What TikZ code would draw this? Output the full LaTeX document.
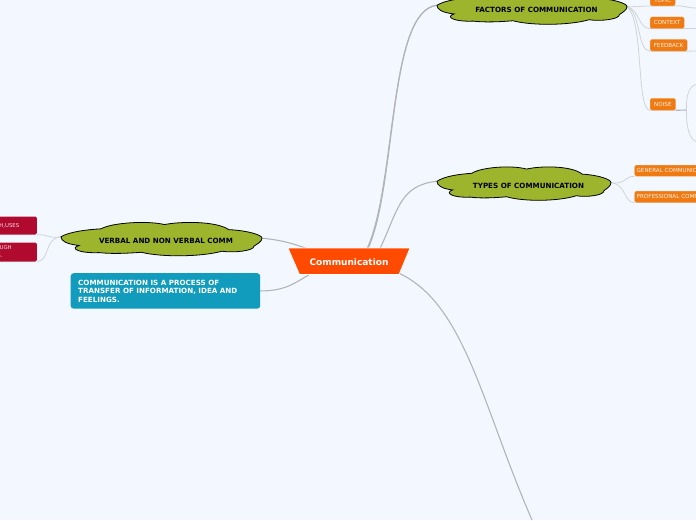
\documentclass[tikz,border=0pt]{standalone}
\usepackage{fontspec}
\setmainfont{DejaVu Sans}
\usetikzlibrary{calc}
\pgfdeclarelayer{bg}
\pgfsetlayers{bg,main}
\definecolor{pagebg}{HTML}{F3F7FF}
\definecolor{cloudfill}{HTML}{9DB52C}
\definecolor{orangebox}{HTML}{F07A12}
\definecolor{redbox}{HTML}{B00A2E}
\definecolor{tealbox}{HTML}{119BBD}
\definecolor{rootfill}{HTML}{FF4A00}
\definecolor{mainline}{HTML}{B2B4BA}
\definecolor{subline}{HTML}{D0D3D9}
\tikzset{
  x=1pt,y=-1pt,
  cloudtext/.style={inner sep=0pt,font=\fontsize{7.15}{8}\selectfont\bfseries,text=black},
  rootshape/.style={fill=rootfill,draw=white,line width=0.7pt},
  rootnode/.style={inner sep=0pt,minimum width=100pt,minimum height=26pt,
    text=white,font=\fontsize{9}{11}\selectfont\bfseries},
  orangenode/.style={fill=orangebox,draw=orangebox!70!white,line width=0.3pt,rounded corners=1.5pt,text=white!90!orangebox,
    inner sep=0pt,anchor=north west,font=\fontsize{5.6}{6}\selectfont,text depth=0pt},
  rednode/.style={fill=redbox,rounded corners=1.5pt,text=white!85!redbox,anchor=north east,inner ysep=0pt,
    font=\fontsize{5.4}{7.5}\selectfont},
  tealnode/.style={fill=tealbox,rounded corners=3pt,anchor=north west,inner sep=0pt},
  mainconn/.style={draw=mainline,line width=1.1pt},
  subconn/.style={draw=subline,line width=0.8pt},
}
\newcommand{\cloudshape}[6]{%
  \begin{scope}[shift={(#2,#3)},xscale=#4,yscale=#5]
    \draw[fill=cloudfill,draw=black,line width=0.8pt]
      (-1,-.13) .. controls (-.92,-.42) and (-.75,-.55) .. (-.6,-.6)
      .. controls (-.5,-.95) and (-.15,-1.1) .. (.03,-.85)
      .. controls (.2,-1.05) and (.55,-1.05) .. (.67,-.55)
      .. controls (.85,-.5) and (1,-.25) .. (1,-.05)
      .. controls (1,.15) and (.95,.3) .. (.92,.42)
      .. controls (.92,.7) and (.72,.82) .. (.6,.72)
      .. controls (.4,1.05) and (.0,1.08) .. (-.2,.78)
      .. controls (-.35,.85) and (-.5,.88) .. (-.62,.8)
      .. controls (-.82,.85) and (-.92,.55) .. (-.82,.38)
      .. controls (-.95,.3) and (-1,.1) .. (-1,-.13) -- cycle;
    \coordinate (#1L) at (-1,-.13);
    \coordinate (#1R) at (1,-.05);
  \end{scope}
  \node[cloudtext] (#1) at (#2+4.5,#3+2) {#6};%
}
\begin{document}
\begin{tikzpicture}
  \begin{pgfonlayer}{bg}
    \fill[pagebg] (0,0) rectangle (696,520);
  \end{pgfonlayer}
  \useasboundingbox (0,0) rectangle (696,520);

  % main nodes
  \draw[rootshape] (288,248) -- (410,248) -- (399,274.5) -- (299.5,274.5) -- cycle;
  \node[rootnode] (root) at (349,261.7) {Communication};
  \cloudshape{factors}{532}{7.5}{95}{17}{FACTORS OF COMMUNICATION}
  \cloudshape{types}{524}{183.5}{87}{17}{TYPES OF COMMUNICATION}
  \cloudshape{verbal}{161.5}{239}{100.5}{17}{VERBAL AND NON VERBAL COMM}

  \node[tealnode,minimum width=189.5pt,minimum height=35.5pt] (def) at (70.5,273) {};
  \node[anchor=north west,inner sep=0pt,align=left,text=white,font=\fontsize{7.15}{8.6}\selectfont\bfseries] (deftext) at (78,279.6)
    {COMMUNICATION IS A PROCESS OF\\TRANSFER OF INFORMATION, IDEA AND\\FEELINGS.};

  % orange leaves
  \node[orangenode,minimum width=25pt,minimum height=10.7pt] (topic) at (650,-5) {TOPIC};
  \node[orangenode,minimum width=34pt,minimum height=11.5pt] (context) at (650,16.8) {CONTEXT};
  \node[orangenode,minimum width=37pt,minimum height=11.7pt] (feedback) at (650,39.2) {FEEDBACK};
  \node[orangenode,minimum width=25.5pt,minimum height=11.7pt] (noise) at (650,98.3) {NOISE};
  \node[orangenode,minimum width=120pt,minimum height=11pt,text width=116pt,align=left] (general) at (634.5,165) {GENERAL COMMUNICATION};
  \node[orangenode,minimum width=120pt,minimum height=11.5pt,text width=116pt,align=left] (professional) at (634.5,191) {PROFESSIONAL COMMUNICATION};

  % red leaves, running off the left edge
  \node[rednode,minimum height=18pt,inner xsep=0pt,align=right] (speech) at (37,216.3) {\hspace{60pt}SPEECH,USES\hspace{17.5pt}};
  \node[rednode,minimum height=19pt,inner xsep=0pt,align=left] (gesture) at (37,242.3) {\hspace{60pt}\begin{tabular}{@{}l@{}}THROUGH\\[0.5pt]SIGNS.\end{tabular}\hspace{25pt}};

  % free ends
  \coordinate (offBottom) at (532,520);
  \coordinate (topicEnd) at (696,8);
  \coordinate (contextEnd) at (696,28.5);
  \coordinate (feedbackEnd) at (696,51);
  \coordinate (noiseJoin) at (686.5,110);
  \coordinate (noiseUp) at (697,84);
  \coordinate (noiseDown) at (697,142);

  \begin{pgfonlayer}{bg}
    % from the root
    \draw[mainconn] ([shift={(19,-13)}]root.center) .. controls (397,185) and (388,10) .. (factorsL);
    \draw[mainconn] ([shift={(18,-13)}]root.center) .. controls (396.5,185) and (388,10) .. (factorsL);
    \draw[mainconn] ([shift={(31,-13)}]root.center) .. controls (398,210) and (400,185) .. (typesL);
    \draw[mainconn] ([shift={(51,12)}]root.center) .. controls (465,305) and (482,405) .. (offBottom);
    \draw[mainconn] (verbalR) .. controls (280,240) and (292,243) .. ([shift={(-42,-13)}]root.center);
    \draw[mainconn] (def.east) .. controls (285,291) and (295,283) .. ([shift={(-40,13)}]root.center);
    % factors branches
    \draw[subconn] (factorsR) .. controls (636,7) and (642,6) .. (topic.south west) -- (topic.south east)
      .. controls (684,5) and (686,8) .. (topicEnd);
    \draw[subconn] (factorsR) .. controls (640,10) and (638,28.5) .. (context.south west) -- (context.south east) -- (contextEnd);
    \draw[subconn] (factorsR) .. controls (641,12) and (637,51) .. (feedback.south west) -- (feedback.south east) -- (feedbackEnd);
    \draw[subconn] (factorsR) .. controls (644,20) and (636,110) .. (noise.south west) -- (noise.south east);
    \draw[mainconn] (noise.south east) -- (noiseJoin);
    \draw[subconn] (noiseJoin) .. controls (686,95) and (689,86) .. (noiseUp);
    \draw[subconn] (noiseJoin) .. controls (686,125) and (689,140) .. (noiseDown);
    % types branches
    \draw[subconn] (typesR) .. controls (626,185) and (624,176) .. (general.south west);
    \draw[subconn] (typesR) .. controls (626,184) and (624,203) .. (professional.south west);
    % verbal branches
    \draw[subconn] (speech.south east) .. controls (47,234) and (50,239) .. (verbalL);
    \draw[subconn] (gesture.south east) .. controls (50,261) and (44,238) .. (verbalL);
  \end{pgfonlayer}
\end{tikzpicture}
\end{document}
